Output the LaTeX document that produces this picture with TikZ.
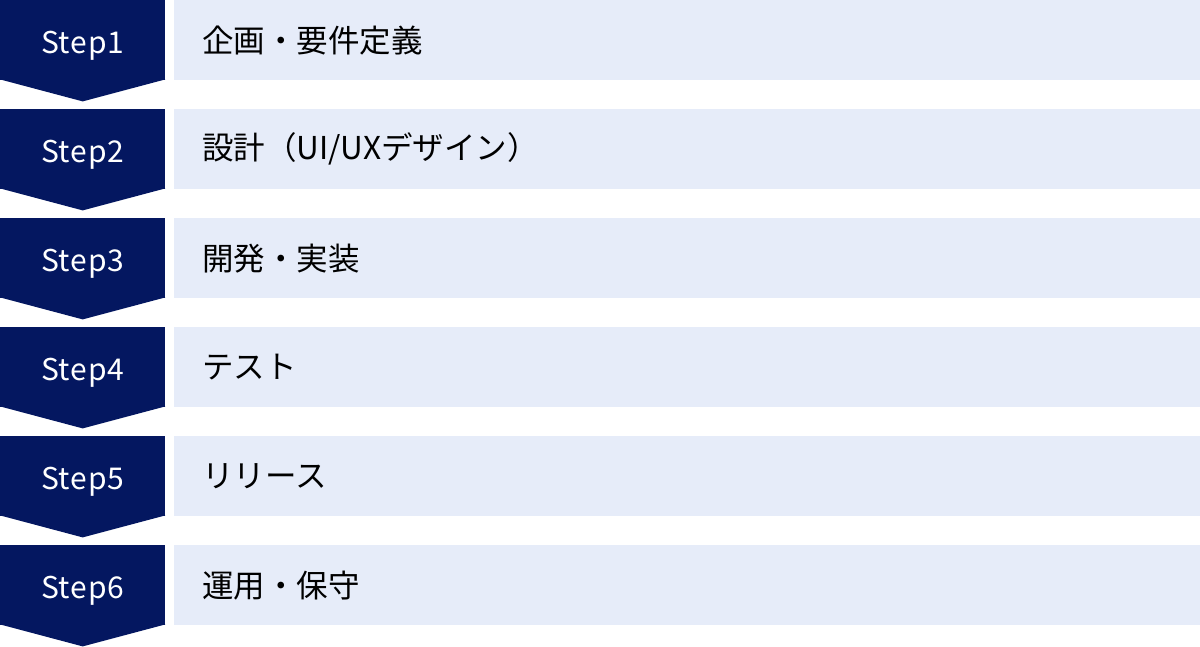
\documentclass[tikz,border=0pt]{standalone}
\usepackage{fontspec}
\setmainfont{Noto Sans CJK JP}
\definecolor{stepnavy}{RGB}{4,23,96}
\definecolor{barblue}{RGB}{230,236,249}
\begin{document}
\begin{tikzpicture}[x=1pt,y=-1pt,
        stepbox/.style={rectangle, fill=stepnavy, text=white, anchor=north west,
            minimum width=165pt, minimum height=80pt, inner sep=0pt,
            text height=26pt, text depth=0pt,
            font=\fontsize{30pt}{34pt}\selectfont\addfontfeature{LetterSpace=3}},
        taskbar/.style={rectangle, fill=barblue, anchor=north west,
            minimum width=1026pt, minimum height=80pt, inner xsep=28pt, inner ysep=0pt,
            text width=970pt, align=left, font=\fontsize{31.5pt}{36pt}\selectfont}]
    \useasboundingbox (0,0) rectangle (1200,647);
    % steps
    \node[stepbox] (step1) at (0,0) {Step1};
    \node[stepbox] (step2) at (0,109) {Step2};
    \node[stepbox] (step3) at (0,218) {Step3};
    \node[stepbox] (step4) at (0,327) {Step4};
    \node[stepbox] (step5) at (0,436) {Step5};
    \node[stepbox] (step6) at (0,545) {Step6};
    \fill[stepnavy] ([yshift=1pt]step1.south west) -- ([yshift=1pt]step1.south east) -- ([yshift=-21pt]step1.south) -- cycle;
    \fill[stepnavy] ([yshift=1pt]step2.south west) -- ([yshift=1pt]step2.south east) -- ([yshift=-21pt]step2.south) -- cycle;
    \fill[stepnavy] ([yshift=1pt]step3.south west) -- ([yshift=1pt]step3.south east) -- ([yshift=-21pt]step3.south) -- cycle;
    \fill[stepnavy] ([yshift=1pt]step4.south west) -- ([yshift=1pt]step4.south east) -- ([yshift=-21pt]step4.south) -- cycle;
    \fill[stepnavy] ([yshift=1pt]step5.south west) -- ([yshift=1pt]step5.south east) -- ([yshift=-21pt]step5.south) -- cycle;
    \fill[stepnavy] ([yshift=1pt]step6.south west) -- ([yshift=1pt]step6.south east) -- ([yshift=-21pt]step6.south) -- cycle;
    % tasks
    \node[taskbar] (planning) at (174,0) {企画・要件定義};
    \node[taskbar] (design) at (174,109) {設計（UI/UXデザイン）};
    \node[taskbar] (development) at (174,218) {開発・実装};
    \node[taskbar] (testing) at (174,327) {テスト};
    \node[taskbar] (release) at (174,436) {リリース};
    \node[taskbar] (operation) at (174,545) {運用・保守};
\end{tikzpicture}
\end{document}
